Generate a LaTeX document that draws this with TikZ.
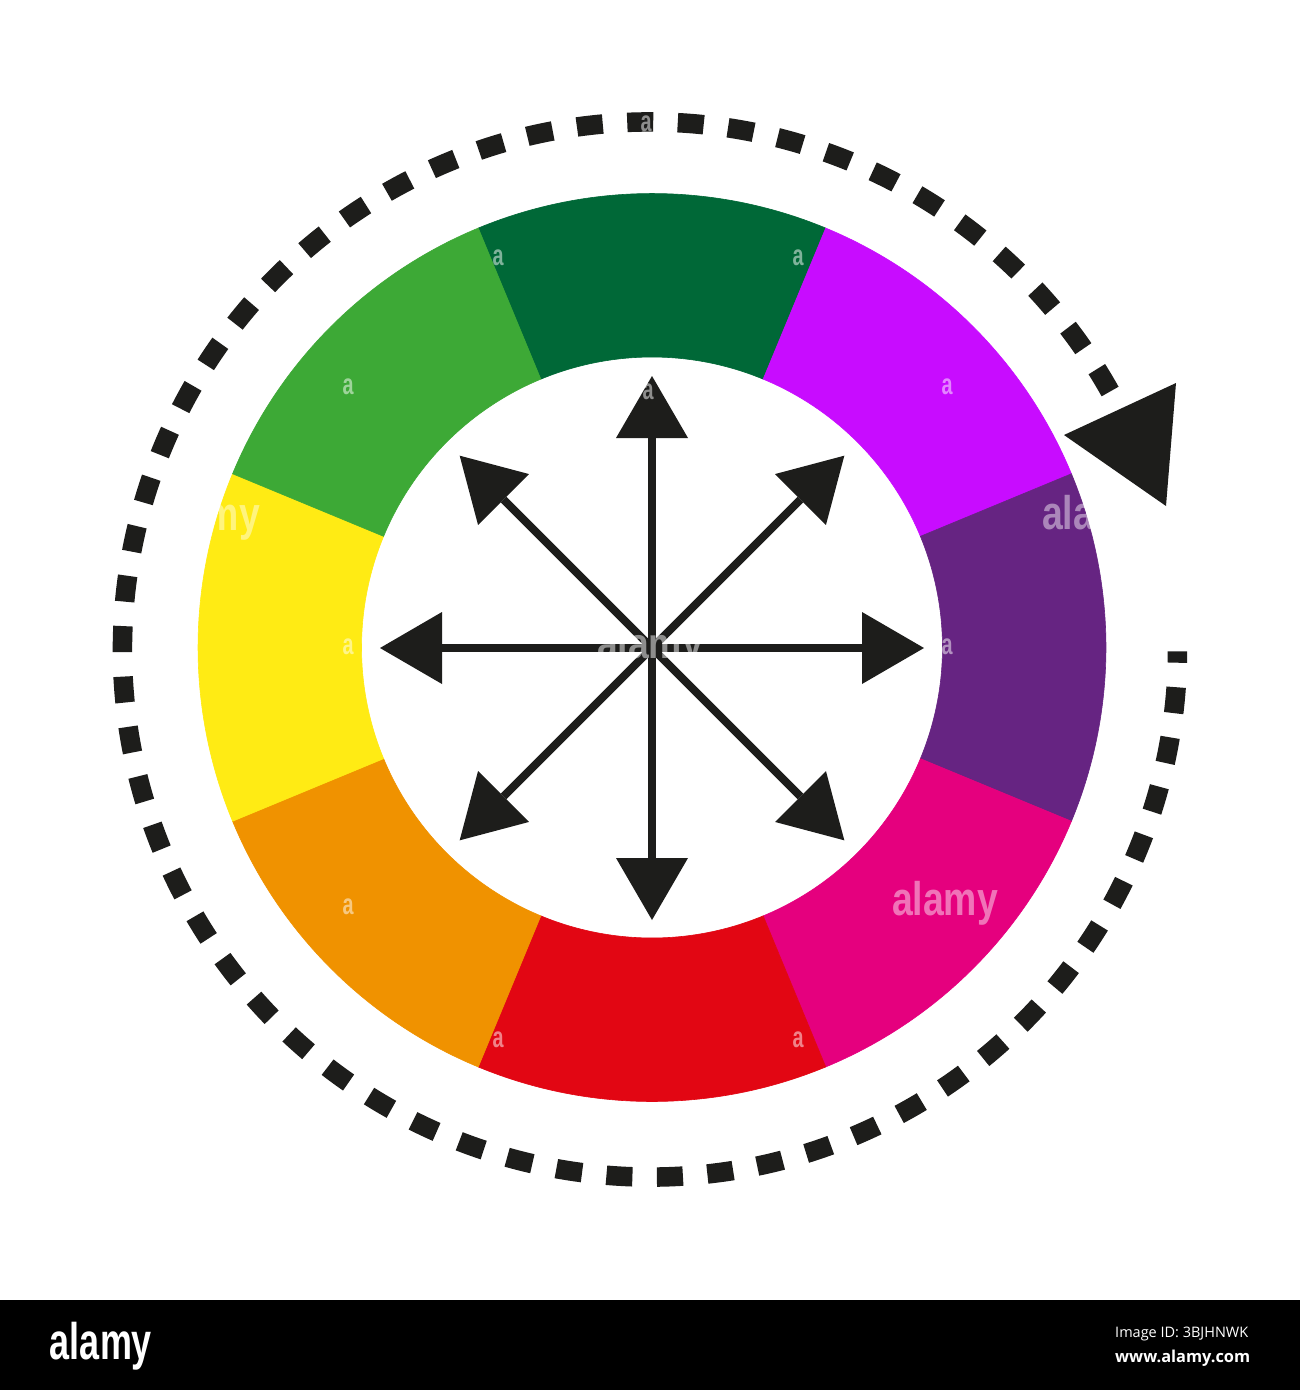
\documentclass[tikz,border=0pt]{standalone}
\usepackage{fontspec}
\setmainfont{Liberation Sans}
\newfontfamily\idfont{Open Sans}
\usepackage{graphicx}
\usetikzlibrary{arrows.meta}
\definecolor{ink}{HTML}{1D1D1B}
\definecolor{dkgreen}{HTML}{006837}
\definecolor{violet}{HTML}{C80CFF}
\definecolor{purple}{HTML}{662482}
\definecolor{pink}{HTML}{E5007E}
\definecolor{wred}{HTML}{E20613}
\definecolor{orange}{HTML}{F09200}
\definecolor{yellow}{HTML}{FFEB14}
\definecolor{green}{HTML}{3DA936}
\begin{document}
\begin{tikzpicture}[x=1pt,y=1pt,
  spoke/.style={draw=ink, line width=8pt, -{Triangle[length=62pt,width=72pt,line width=0pt]}},
  wm/.style={text=white, text opacity=0.45, inner sep=0pt},
  wmc/.style={text=white, text opacity=0.5, inner sep=0pt},
  bannertext/.style={text=white, inner sep=0pt},
]
\useasboundingbox (0,0) rectangle (1300,-1390);
\fill[white] (0,0) rectangle (1300,-1390);

% colour ring
\coordinate (C) at (652,-647.5);
\foreach \a/\col in {67.5/dkgreen, 22.5/violet, -22.5/purple, -67.5/pink, -112.5/wred, -157.5/orange, 157.5/yellow, 112.5/green} {
  \filldraw[fill=\col, draw=\col, line width=0.6pt, shift={(C)}]
    (\a:454) arc[start angle=\a, end angle={\a+45}, radius=454]
    -- ({\a+45}:290.5) arc[start angle={\a+45}, end angle=\a, radius=290.5] -- cycle;
}

% dashed rotation arc
\coordinate (D) at (650,-649.5);
\draw[ink, line width=19.5pt, dash pattern=on 26pt off 24.53pt, shift={(D)}]
  (29.28:527.5) arc[start angle=29.28, end angle=359.8, radius=527.5];
\coordinate (h1) at (1064,-435);
\coordinate (h2) at (1176,-383);
\coordinate (h3) at (1166,-506);
\fill[ink] (h1) -- (h2) -- (h3) -- cycle;

% spokes
\coordinate (O) at (652,-648);
\foreach \i in {0,...,7} {
  \path (O) ++({\i*45}:272) coordinate (t\i);
}
\foreach \i in {0,...,7} {
  \draw[spoke] (O) -- (t\i);
}

% watermark overlays
\node[wm] (wm1) at (945,-903) {\resizebox*{106pt}{44pt}{\bfseries alamy}};
\node[wm] (wm2) at (207,-518) {\resizebox*{106pt}{44pt}{\bfseries alamy}};
\node[wm] (wm3) at (1095,-517) {\resizebox*{106pt}{44pt}{\bfseries alamy}};
\node[wmc] (wm4) at (650,-647) {\resizebox*{106pt}{40pt}{\bfseries alamy}};
\foreach \x/\y [count=\k] in {348/387, 498/258, 798/258, 947/387, 348/647, 947/647, 348/907, 498/1040, 798/1040, 646/124, 648/392} {
  \node[wmc] (wa\k) at (\x,-\y) {\resizebox*{11pt}{16pt}{\bfseries a}};
}

% banner
\fill[black] (0,-1300) rectangle (1300,-1390);
\node[bannertext] (logo) at (101,-1346) {\resizebox*{102pt}{48pt}{\bfseries alamy}};
\node[bannertext, anchor=base west] (imgid) at (1115,-1337) {\resizebox{133pt}{!}{\idfont Image ID: 3BJHNWK}};
\node[bannertext, anchor=base west] (url) at (1115,-1362) {\resizebox{135pt}{!}{\idfont\bfseries www.alamy.com}};
\end{tikzpicture}
\end{document}
